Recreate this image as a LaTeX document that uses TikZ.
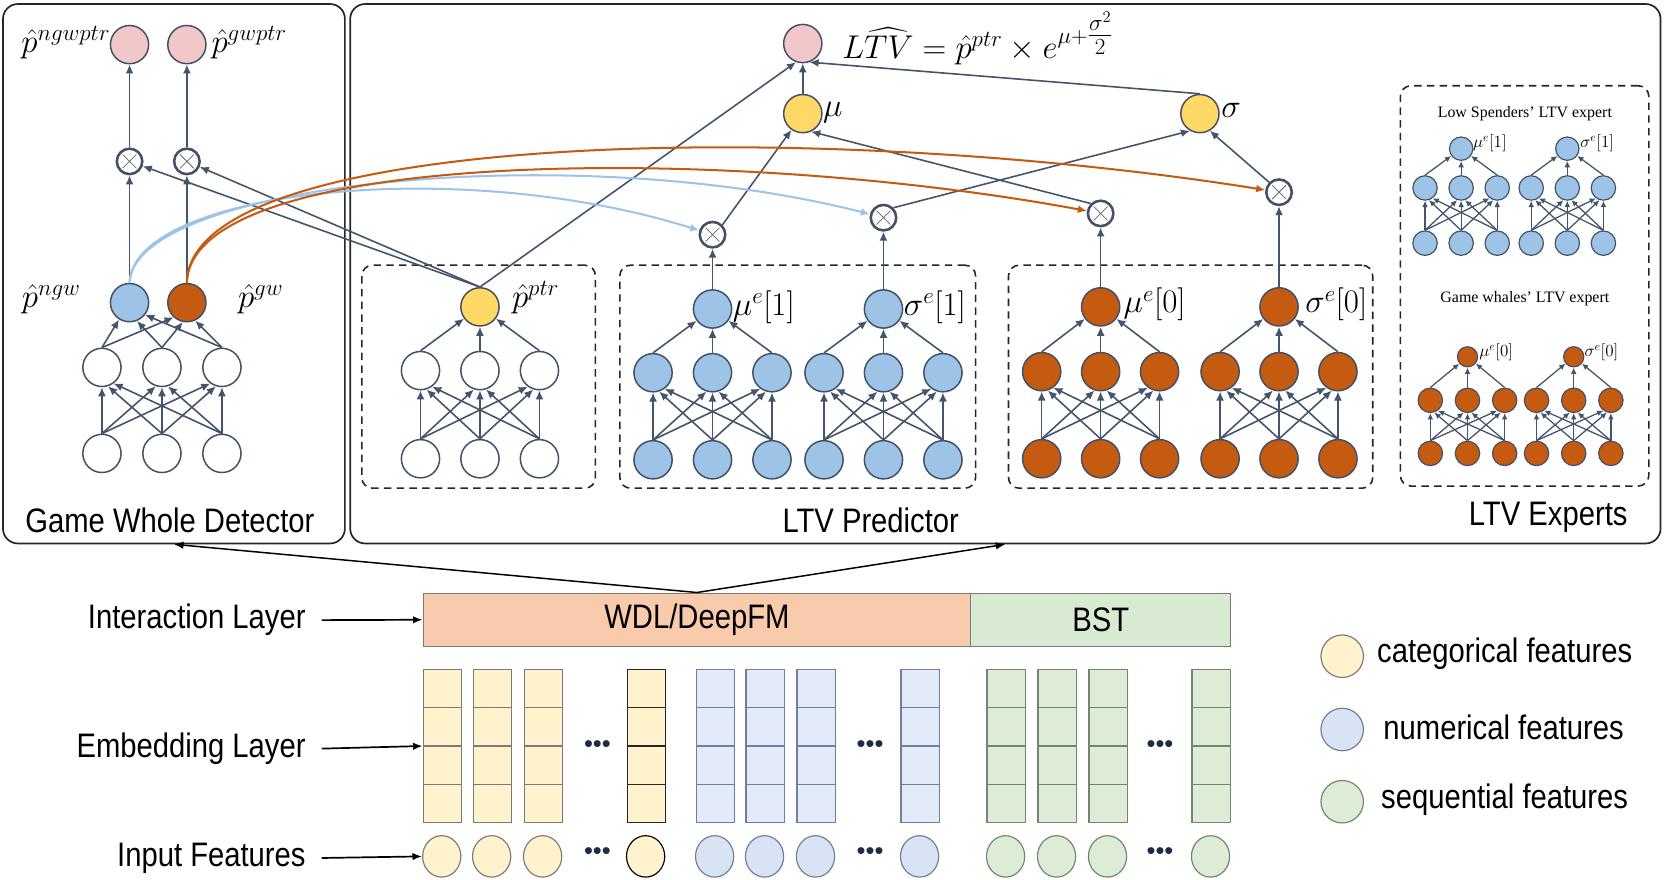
\RequirePackage{fix-cm}
\documentclass[tikz,border=0pt]{standalone}
\usepackage{amsmath}
\usepackage[no-math]{fontspec}
\setmainfont{Liberation Sans}
\newfontfamily\narrowsans[FakeStretch=0.86]{Liberation Sans}
\newfontfamily\timesfont{Liberation Serif}
\usetikzlibrary{arrows.meta,calc,shapes.geometric}

\definecolor{nb}{HTML}{435066}
\definecolor{ar}{HTML}{44546A}
\definecolor{pinkf}{HTML}{F2C7C9}
\definecolor{yelf}{HTML}{FFD966}
\definecolor{bluef}{HTML}{9DC3E6}
\definecolor{orf}{HTML}{C55A11}
\definecolor{wdlf}{HTML}{F8CBAD}
\definecolor{bstf}{HTML}{D9EAD3}
\definecolor{catf}{HTML}{FFF2CC}
\definecolor{numf}{HTML}{E3EBFA}
\definecolor{numc}{HTML}{DAE3F3}
\definecolor{seqf}{HTML}{DDEBD7}
\definecolor{gb}{HTML}{7A7A7A}
\definecolor{gbb}{HTML}{6F7F99}
\definecolor{gbg}{HTML}{6F866F}
\definecolor{dotc}{HTML}{1F2A44}

\tikzset{
  arr/.style={draw=ar, line width=1.5, -{Latex[length=8.5,width=7.5]}},
  sarr/.style={draw=ar, line width=1.2, -{Latex[length=6,width=5.5]}},
  barr/.style={draw=black, line width=1.6, -{Latex[length=9,width=7]}},
  bigc/.style={circle, draw=nb, line width=1.4, minimum size=36, inner sep=0},
  sbc/.style={circle, draw=nb, line width=1.1, fill=bluef, minimum size=23, inner sep=0},
  sbtop/.style={circle, draw=nb, line width=1.1, fill=bluef, minimum size=22, inner sep=0},
  soc/.style={circle, draw=nb, line width=1.1, fill=orf, minimum size=23, inner sep=0},
  sotop/.style={circle, draw=nb, line width=1.1, fill=orf, minimum size=19, inner sep=0},
  xnode/.style={circle, draw=nb, line width=2.4, fill=white, minimum size=24, inner sep=0,
    path picture={\draw[line width=0.7, draw=black!60]
      ([shift={(-6.5,-6.5)}]path picture bounding box.center) -- ([shift={(6.5,6.5)}]path picture bounding box.center)
      ([shift={(-6.5,6.5)}]path picture bounding box.center) -- ([shift={(6.5,-6.5)}]path picture bounding box.center);}},
  obox/.style={draw=black!85, line width=1.6, rounded corners=14, inner sep=0},
  dbox/.style={draw=black!85, line width=1.5, dash pattern=on 7pt off 5pt, rounded corners=10, inner sep=0},
  mlab/.style={font=\fontsize{31}{34}\selectfont, inner sep=0},
  elab/.style={font=\fontsize{16}{18}\selectfont, inner sep=0},
  tlab/.style={font=\timesfont\fontsize{15}{18}\selectfont, inner sep=0},
  lab/.style={font=\narrowsans\fontsize{32}{36}\selectfont, inner sep=0},
  bcurve/.style={draw=bluef, line width=1.9, -{Latex[length=8.5,width=7.5]}},
  ocurve/.style={draw=orf, line width=1.9, -{Latex[length=8.5,width=7.5]}},
  col/.style={draw=#1, line width=1.1, minimum width=36, minimum height=144, inner sep=0, anchor=north west,
    path picture={\foreach \f in {0.25,0.5,0.75}{\draw[draw=#1, line width=1.1]
      ($(path picture bounding box.north west)!\f!(path picture bounding box.south west)$) --
      ($(path picture bounding box.north east)!\f!(path picture bounding box.south east)$);}}},
  inp/.style={ellipse, line width=1.1, minimum width=36, minimum height=39, inner sep=0},
  dots/.style={font=\fontsize{24}{26}\selectfont, text=dotc, inner sep=0},
}

% prefix, xc, spacing, ytop, yhidden, ybottom, node style, top style, arrow style
\newcommand\mlpnet[9]{%
  \node[#8] (#1t) at (#2,#4) {};
  \foreach \i in {1,2,3}{
    \node[#7] (#1h\i) at ({#2+(\i-2)*#3},#5) {};
    \node[#7] (#1b\i) at ({#2+(\i-2)*#3},#6) {};
  }
  \foreach \i in {1,2,3}{
    \draw[#9] (#1h\i.north) -- (#1t);
    \foreach \j in {1,2,3}{
      \pgfmathtruncatemacro\ang{270+(\i-\j)*18}
      \draw[#9] (#1b\i.north) -- (#1h\j.\ang);
    }
  }
}

\begin{document}
\begin{tikzpicture}[x=1pt,y=-1pt]
\useasboundingbox (0,0) rectangle (1568,828.7);

% ---------- outer boxes ----------
\node[obox, minimum width=322, minimum height=508, anchor=north west] (gwdbox) at (2,3) {};
\node[obox, minimum width=1234, minimum height=508, anchor=north west] (ltvbox) at (329,3) {};
\node[lab] (gwdlab) at (160,490) {Game Whole Detector};
\node[lab] (ltvlab) at (820,490) {LTV Predictor};
\node[lab] (explab) at (1458,487) {LTV Experts};

% ---------- dashed boxes ----------
\node[dbox, minimum width=220, minimum height=210, anchor=north west] (box1) at (340,249) {};
\node[dbox, minimum width=335, minimum height=210, anchor=north west] (box2) at (583,249) {};
\node[dbox, minimum width=343, minimum height=210, anchor=north west] (box3) at (949,249) {};
\node[dbox, minimum width=234, minimum height=377, anchor=north west] (box4) at (1318,80) {};

% ---------- Game whale detector ----------
\node[bigc, fill=pinkf] (gp1) at (122,42) {};
\node[bigc, fill=pinkf] (gp2) at (176,42) {};
\node[mlab, anchor=east] (lgp1) at (104,40) {$\hat{p}^{ngwptr}$};
\node[mlab, anchor=west] (lgp2) at (199,40) {$\hat{p}^{gwptr}$};
\node[xnode] (gx1) at (122,152) {};
\node[xnode] (gx2) at (176,152) {};
\node[bigc, fill=bluef] (gb) at (122,285) {};
\node[bigc, fill=orf] (go) at (176,285) {};
\node[mlab, anchor=east] (lgb) at (76,282) {$\hat{p}^{ngw}$};
\node[mlab, anchor=west] (lgo) at (224,282) {$\hat{p}^{gw}$};
\foreach \i/\x in {1/96,2/152.5,3/209}{
  \node[bigc, fill=white] (gh\i) at (\x,346) {};
  \node[bigc, fill=white] (gl\i) at (\x,427) {};
}
\foreach \i in {1,2,3}{
  \foreach \j in {1,2,3}{
    \pgfmathtruncatemacro\ang{270+(\i-\j)*18}
    \draw[arr] (gl\i.north) -- (gh\j.\ang);
  }
}
\foreach \i/\a/\b in {1/238/228, 2/292/258, 3/322/295}{
  \draw[arr] (gh\i.north) -- (gb.\a);
  \draw[arr] (gh\i.north) -- (go.\b);
}
\draw[arr] (gb) -- (gx1);
\draw[arr] (go) -- (gx2);
\draw[arr] (gx1) -- (gp1);
\draw[arr] (gx2) -- (gp2);

% ---------- LTV predictor top ----------
\node[bigc, fill=pinkf] (ltv) at (756,41) {};
\node[mlab, anchor=west] (form) at (793,36) {$L\widehat{TV}=\hat{p}^{ptr}\times e^{\mu+\tfrac{\sigma^{2}}{2}}$};
\node[bigc, fill=yelf] (mu) at (756,107) {};
\node[mlab, anchor=west] (lmu) at (775,106) {$\mu$};
\node[bigc, fill=yelf] (sigma) at (1130,107) {};
\node[mlab, anchor=west] (lsigma) at (1150,104) {$\sigma$};

\node[xnode] (xm1) at (671,221) {};
\node[xnode] (xs1) at (832,205) {};
\node[xnode] (xm0) at (1036.5,201) {};
\node[xnode] (xs0) at (1204.5,181) {};

% MLP blocks
\mlpnet{p}{452}{56}{289}{349}{432}{bigc, fill=white}{bigc, fill=yelf}{arr}
\node[mlab, anchor=west] (lpt) at (482,280) {$\hat{p}^{ptr}$};
\mlpnet{ma}{671}{56}{291}{351}{433}{bigc, fill=bluef}{bigc, fill=bluef}{arr}
\node[mlab, anchor=west] (lma) at (690,289) {$\mu^{e}[1]$};
\mlpnet{sa}{832}{56}{291}{351}{433}{bigc, fill=bluef}{bigc, fill=bluef}{arr}
\node[mlab, anchor=west] (lsa) at (851,289) {$\sigma^{e}[1]$};
\mlpnet{mb}{1036.5}{55.5}{289}{350}{432}{bigc, fill=orf}{bigc, fill=orf}{arr}
\node[mlab, anchor=west] (lmb) at (1058,287) {$\mu^{e}[0]$};
\mlpnet{sb}{1204.5}{55.5}{289}{350}{432}{bigc, fill=orf}{bigc, fill=orf}{arr}
\node[mlab, anchor=west] (lsb) at (1229,287) {$\sigma^{e}[0]$};

\draw[arr] (mat) -- (xm1);
\draw[arr] (sat) -- (xs1);
\draw[arr] (mbt) -- (xm0);
\draw[arr] (sbt) -- (xs0);

\draw[arr] (mu) -- (ltv);
\draw[arr] (sigma.north) -- (ltv.-70);
\draw[arr] (pt.north) -- (ltv.-110);
\draw[arr] (xm1.north east) -- (mu.-125);
\draw[arr] (xm0.north west) -- (mu.-65);
\draw[arr] (xs1.north east) -- (sigma.-120);
\draw[arr] (xs0.north west) -- (sigma.-60);
\draw[arr] (pt.north) -- (gx1);
\draw[arr] (pt.north) -- (gx2);

% gate curves
\draw[bcurve] (gb.north) .. controls (125,180) and (430,145) .. (xm1);
\draw[bcurve] (gb.north) .. controls (126,172) and (540,130) .. (xs1);
\draw[ocurve] (go.north) .. controls (180,140) and (680,135) .. (xm0);
\draw[ocurve] (go.north) .. controls (178,125) and (760,110) .. (xs0);

% ---------- LTV experts ----------
\node[tlab] (tlow) at (1436,107) {Low Spenders’ LTV expert};
\node[tlab] (twh) at (1436,281) {Game whales’ LTV expert};
\mlpnet{eba}{1376}{34}{140}{177}{229}{sbc}{sbtop}{sarr}
\mlpnet{ebb}{1476}{34}{140}{177}{229}{sbc}{sbtop}{sarr}
\mlpnet{eoa}{1382}{35}{336}{377}{427}{soc}{sotop}{sarr}
\mlpnet{eob}{1482}{35}{336}{377}{427}{soc}{sotop}{sarr}
\node[elab, anchor=west] (leba) at (1387,135) {$\mu^{e}[1]$};
\node[elab, anchor=west] (lebb) at (1488,135) {$\sigma^{e}[1]$};
\node[elab, anchor=west] (leoa) at (1393,332) {$\mu^{e}[0]$};
\node[elab, anchor=west] (leob) at (1492,332) {$\sigma^{e}[0]$};

% ---------- interaction layer ----------
\node[draw=gb, fill=wdlf, line width=1.1, minimum width=515.6, minimum height=50.2, inner sep=0,
      anchor=north west, font=\narrowsans\fontsize{32}{36}\selectfont] (wdl) at (398,558) {WDL/DeepFM};
\node[draw=gb, fill=bstf, line width=1.1, minimum width=244.8, minimum height=50.2, inner sep=0,
      anchor=north west, font=\narrowsans\fontsize{32}{36}\selectfont] (bst) at (913.6,558) {BST};
\draw[barr, line width=1.4] (wdl.north) -- (gwdbox.south);
\draw[barr, line width=1.4] (wdl.north) -- (ltvbox.south);

% ---------- embedding layer ----------
\foreach \x/\n/\f/\c in {398/e1/catf/gb, 445/e2/catf/gb, 493/e3/catf/gb, 590/e4/catf/black!85,
                         655/e5/numf/gbb, 702/e6/numf/gbb, 750/e7/numf/gbb, 848/e8/numf/gbb,
                         929/e9/seqf/gbg, 977/e10/seqf/gbg, 1025/e11/seqf/gbg, 1122/e12/seqf/gbg}{
  \node[col=\c, fill=\f] (\n) at (\x,630) {};
}
\foreach \x/\n/\f/\c in {416/i1/catf/gb, 463/i2/catf/gb, 511/i3/catf/gb, 608/i4/catf/black,
                         673/i5/numc/gbb, 720/i6/numc/gbb, 768/i7/numc/gbb, 866/i8/numc/gbb,
                         947/i9/seqf/gbg, 995/i10/seqf/gbg, 1043/i11/seqf/gbg, 1140/i12/seqf/gbg}{
  \node[inp, draw=\c, fill=\f] (\n) at (\x,806.5) {};
}
\node[dots] (d1) at (562.6,703) {•••};
\node[dots] (d2) at (819.4,703) {•••};
\node[dots] (d3) at (1092.4,703) {•••};
\node[dots] (d4) at (562.6,804) {•••};
\node[dots] (d5) at (819.4,804) {•••};
\node[dots] (d6) at (1092.4,804) {•••};

% ---------- row labels ----------
\node[lab, anchor=east] (lint) at (288,584) {Interaction Layer};
\node[lab, anchor=east] (lemb) at (288,705) {Embedding Layer};
\node[lab, anchor=east] (linp) at (288,808) {Input Features};
\draw[barr] ([xshift=15]lint.east) -- (wdl.west);
\draw[barr] ([xshift=15]lemb.east) -- (e1.west);
\draw[barr] ([xshift=15]linp.east) -- (i1.west);

% ---------- legend ----------
\node[inp, draw=gb, fill=catf, minimum width=40, minimum height=40] (lg1) at (1264,618) {};
\node[inp, draw=gbb, fill=numc, minimum width=40, minimum height=40] (lg2) at (1264,687) {};
\node[inp, draw=gbg, fill=seqf, minimum width=40, minimum height=40] (lg3) at (1264,755) {};
\node[lab] (lgt1) at (1417,616) {categorical features};
\node[lab] (lgt2) at (1416,685) {numerical features};
\node[lab] (lgt3) at (1417,753) {sequential features};
\end{tikzpicture}
\end{document}
